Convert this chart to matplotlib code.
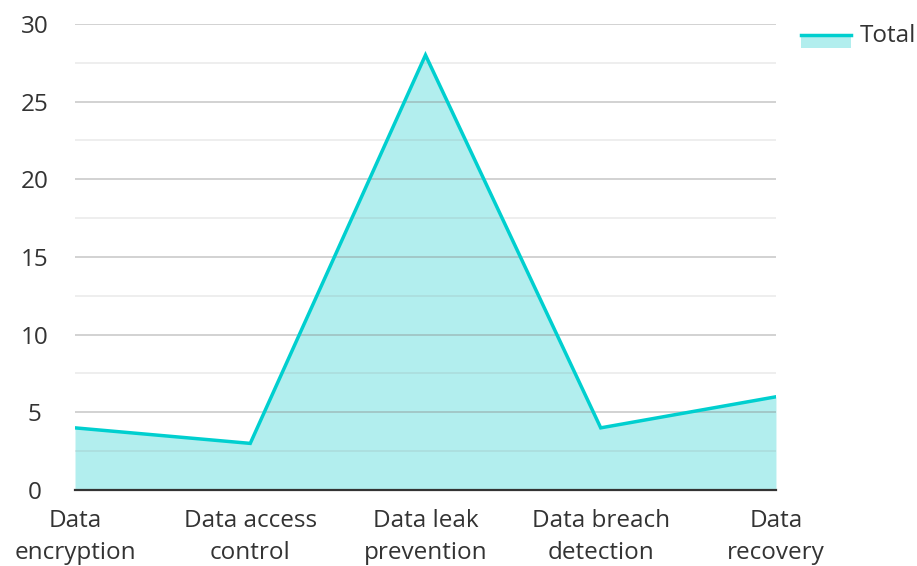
import numpy as np
import matplotlib
matplotlib.use('Agg')
import matplotlib.pyplot as plt
import matplotlib.patches as mpatches
from matplotlib.lines import Line2D
from matplotlib.ticker import MultipleLocator

plt.rcParams['font.family'] = ['Open Sans', 'DejaVu Sans']

categories = ['Data\nencryption', 'Data access\ncontrol', 'Data leak\nprevention',
              'Data breach\ndetection', 'Data\nrecovery']
totals = [4, 3, 28, 4, 6]
series_name = 'Total'

line_color = '#00cfcf'
fill_color = '#b2eeee'
text_color = '#333333'
fs = 17.5

fig = plt.figure(figsize=(9.17, 5.66), dpi=100)
ax = fig.add_axes([0.0818, 0.1343, 0.7644, 0.8233])

x = np.arange(len(categories))
ax.fill_between(x, totals, 0, color=fill_color, lw=0, zorder=1)
ax.plot(x, totals, color=line_color, lw=2.5, zorder=3, solid_joinstyle='miter')

ax.set_xlim(0, len(categories) - 1)
ax.set_ylim(0, 30)
ax.yaxis.set_major_locator(MultipleLocator(5))
ax.yaxis.set_minor_locator(MultipleLocator(2.5))
ax.grid(which='major', axis='y', color='#8a8a8a', alpha=0.45, lw=1.2, zorder=2)
ax.grid(which='minor', axis='y', color='#8a8a8a', alpha=0.17, lw=1.2, zorder=2)
ax.set_axisbelow(False)

ax.set_xticks(x)
ax.set_xticklabels(categories, linespacing=1.4)
ax.tick_params(axis='both', which='both', length=0, labelsize=fs, colors=text_color)
ax.tick_params(axis='x', pad=14)
ax.tick_params(axis='y', pad=29)
for lab in ax.get_yticklabels():
	lab.set_horizontalalignment('center')

for s in ['top', 'right', 'left']:
	ax.spines[s].set_visible(False)
ax.spines['bottom'].set_color('#333333')
ax.spines['bottom'].set_linewidth(1.6)
ax.spines['bottom'].set_zorder(4)

# legend swatch drawn by hand: line on top of fill
W, H = 917.0, 566.0
fig.add_artist(mpatches.Rectangle((801 / W, 1 - 47.5 / H), 50 / W, 11 / H,
	transform=fig.transFigure, color=fill_color, lw=0))
fig.add_artist(Line2D([801 / W, 851 / W], [1 - 35 / H, 1 - 35 / H],
	transform=fig.transFigure, color=line_color, lw=2.5))
fig.text(860 / W, 1 - 36 / H, series_name, fontsize=fs, color=text_color,
	va='center', ha='left')

fig.savefig('out.png', dpi=100)
